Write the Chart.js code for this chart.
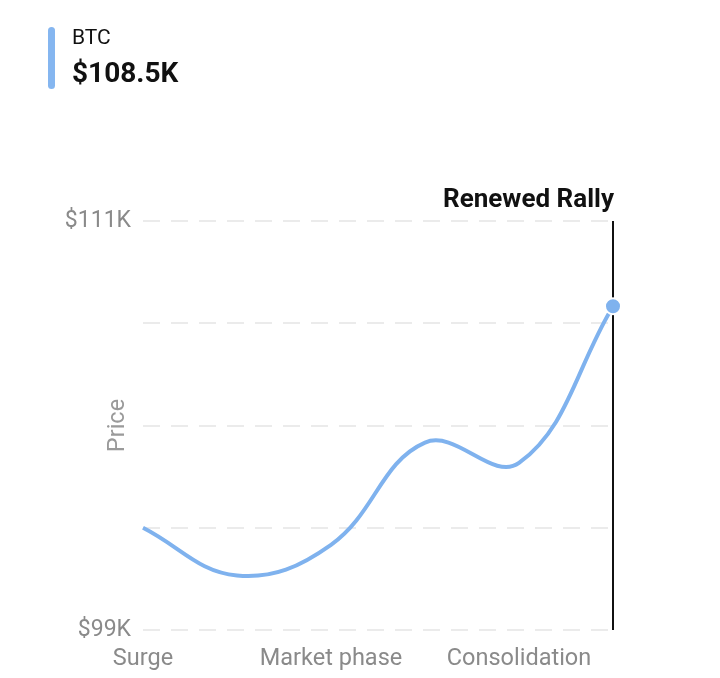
<!DOCTYPE html>
<html lang="en">
<head>
  <meta charset="UTF-8">
  <title>BTC Price by Market Phase</title>
  <script src="https://cdn.jsdelivr.net/npm/chart.js"></script>
  <style>
    body {
      margin: 0;
      background: #fff;
      font-family: 'Roboto', sans-serif;
    }

    #wrap {
      position: relative;
      width: 720px;
      height: 678px;
    }

    .bar {
      position: absolute;
      left: 48px;
      top: 27px;
      width: 7px;
      height: 62px;
      border-radius: 4px;
      background: #85b6f0;
    }

    .coin {
      position: absolute;
      left: 72px;
      top: 27px;
      font-size: 21px;
      line-height: 1;
      color: #111;
    }

    .price {
      position: absolute;
      left: 72px;
      top: 59px;
      font-size: 28px;
      line-height: 1;
      font-weight: bold;
      color: #111;
    }

    #box {
      position: absolute;
      left: 0;
      top: 0;
      width: 720px;
      height: 678px;
    }
  </style>
</head>
<body>

  <div id="wrap">
    <div id="box"><canvas id="chart"></canvas></div>
    <div class="bar"></div>
    <div class="coin">BTC</div>
    <div class="price">$108.5K</div>
  </div>

  <script>
    // market phases (x axis) and BTC price in thousands of USD
    const phases = ['Surge', 'Correction', 'Market phase', 'Recovery', 'Consolidation', 'Renewed Rally'];
    const prices = [102, 100.6, 101.5, 104.5, 103.9, 108.5];

    // y axis range, only the ends get a label
    const yMin = 99;
    const yMax = 111;
    const yStep = 3;

    const lineBlue = '#7fb2ee';
    const lastIdx = prices.length - 1;

    // black marker line + phase name on the last point
    const markerPlugin = {
      id: 'marker',
      beforeDatasetsDraw(chart) {
        const { ctx, chartArea } = chart;
        const pt = chart.getDatasetMeta(0).data[lastIdx];
        ctx.save();
        ctx.strokeStyle = '#111';
        ctx.lineWidth = 2;
        ctx.beginPath();
        ctx.moveTo(pt.x, chartArea.top);
        ctx.lineTo(pt.x, chartArea.bottom);
        ctx.stroke();
        ctx.restore();
      },
      afterDraw(chart) {
        const { ctx, chartArea } = chart;
        const pt = chart.getDatasetMeta(0).data[lastIdx];
        ctx.save();
        ctx.font = 'bold 26px Roboto';
        ctx.fillStyle = '#111';
        ctx.textAlign = 'right';
        ctx.textBaseline = 'alphabetic';
        ctx.fillText(phases[lastIdx], pt.x + 1, chartArea.top - 14);
        ctx.restore();
      }
    };

    const chart = new Chart(document.getElementById('chart'), {
      type: 'line',
      data: {
        labels: phases,
        datasets: [{
          label: 'BTC',
          data: prices,
          borderColor: lineBlue,
          backgroundColor: lineBlue,
          borderWidth: 4,
          tension: 0.4,
          fill: false,
          pointRadius: ctx => ctx.dataIndex === lastIdx ? 8 : 0,
          pointHoverRadius: ctx => ctx.dataIndex === lastIdx ? 8 : 0,
          pointBackgroundColor: lineBlue,
          pointBorderColor: '#fff',
          pointBorderWidth: 2
        }]
      },
      options: {
        responsive: true,
        maintainAspectRatio: false,
        animation: false,
        layout: {
          padding: { top: 221, right: 107, bottom: 0, left: 0 }
        },
        plugins: {
          legend: { display: false },
          tooltip: { enabled: false }
        },
        scales: {
          x: {
            afterFit(scale) {
              scale.height = 48;
            },
            grid: { display: false, drawTicks: false },
            border: { display: false },
            ticks: {
              color: '#8a8a8a',
              font: { family: 'Roboto', size: 23.5 },
              maxRotation: 0,
              autoSkip: true,
              padding: 15
            }
          },
          y: {
            min: yMin,
            max: yMax,
            afterFit(scale) {
              scale.width = 143;
            },
            grid: {
              color: '#ebebeb',
              lineWidth: 2,
              drawTicks: false
            },
            border: { display: false, dash: [17, 11] },
            ticks: {
              stepSize: yStep,
              color: '#8a8a8a',
              font: { family: 'Roboto', size: 23 },
              padding: 12,
              callback: v => (v === yMin || v === yMax) ? '$' + v + 'K' : ''
            },
            title: {
              display: true,
              text: 'Price',
              color: '#9a9a9a',
              font: { family: 'Roboto', size: 23.5 },
              padding: { top: 104, bottom: 0 }
            }
          }
        }
      },
      plugins: [markerPlugin]
    });
  </script>

</body>
</html>
